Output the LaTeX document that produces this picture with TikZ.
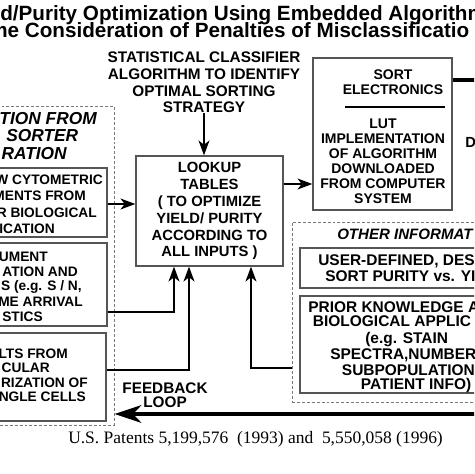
\documentclass[tikz,border=0pt]{standalone}
\usepackage{fontspec}
\setmainfont{Liberation Serif}
\setsansfont{Liberation Sans}
\usetikzlibrary{arrows.meta}
\definecolor{boxgray}{RGB}{85,85,85}
\definecolor{dashgray}{RGB}{120,120,120}
\newcommand\bfsans[2]{\sffamily\bfseries\fontsize{#1}{#2}\selectfont}

\tikzset{
  box/.style={draw=boxgray, line width=0.9pt, inner sep=0pt},
  group/.style={draw=dashgray, line width=0.6pt, dash pattern=on 2.2pt off 1.5pt, inner sep=0pt},
  frag/.style={inner sep=0pt, font=\bfsans{#1}{#1}},
  cut/.style={frag=#1, anchor=base east},
  lead/.style={frag=#1, anchor=base west},
  head/.style={inner sep=0pt, font=\bfsans{#1}{#1}\itshape},
  flow/.style={line width=2pt, -{Stealth[length=11pt,width=8pt,inset=3pt]}},
  fbarrow/.style={line width=3.4pt, -{Stealth[length=20pt,width=13pt,inset=6pt]}},
}

\begin{document}
\begin{tikzpicture}[x=0.75pt,y=-0.75pt]
  \useasboundingbox (0,0) rectangle (474,474);
  \clip (0,0) rectangle (474,474);
  % title
  \node[lead=15.5] (title1) at (0,20.5) {d/Purity Optimization Using Embedded Algorithm};
  \node[lead=15.5] (title2) at (-11,38) {me Consideration of Penalties of Misclassificatio};
  % boxes
  \node[group, minimum width=124*0.75pt, minimum height=319*0.75pt] (instgroup) at (52,265.5) {};
  \node[box, minimum width=127*0.75pt, minimum height=69*0.75pt] (raw) at (43.5,202.5) {};
  \node[box, minimum width=127*0.75pt, minimum height=83*0.75pt] (instr) at (43.5,284.5) {};
  \node[box, minimum width=126*0.75pt, minimum height=88*0.75pt] (mol) at (43,377) {};
  \node[box, minimum width=147*0.75pt, minimum height=110*0.75pt, align=center, font=\bfsans{11.1}{12.7}] (lookup) at (209.5,211)
    {LOOKUP\\TABLES\\( TO OPTIMIZE\\YIELD/ PURITY\\ACCORDING TO\\ALL INPUTS )};
  \node[box, minimum width=139*0.75pt, minimum height=152*0.75pt] (sort) at (382.5,134) {};
  \node[group, minimum width=208*0.75pt, minimum height=180*0.75pt] (othergroup) at (396,312) {};
  \node[box, minimum width=200*0.75pt, minimum height=40*0.75pt] (userbox) at (400,268) {};
  \node[box, minimum width=200*0.75pt, minimum height=97*0.75pt] (priorbox) at (400,344.5) {};
  % top text and sort box text
  \node[inner sep=0pt, align=center, font=\bfsans{11.5}{12.5}] (strategy) at (204,82.5)
    {STATISTICAL CLASSIFIER\\ALGORITHM TO IDENTIFY\\OPTIMAL SORTING\\STRATEGY};
  \node[inner sep=0pt, align=center, font=\bfsans{10.5}{10.7}] (sorttxt) at (393,82.2) {SORT\\ELECTRONICS};
  \node[inner sep=0pt, align=center, font=\bfsans{10.5}{11.25}] (luttxt) at (383,161.7)
    {LUT\\IMPLEMENTATION\\OF ALGORITHM\\DOWNLOADED\\FROM COMPUTER\\SYSTEM};
  \draw[line width=2pt] (345,107) -- (445,107);
  \node[lead=11] (dtxt) at (465,147) {D};
  % left group
  \node[head=13, anchor=base east] (hd1) at (97,125) {TION FROM};
  \node[head=13, anchor=base west] (hd2) at (6,142) {SORTER};
  \node[head=13, anchor=base east] (hd3) at (67,159) {RATION};
  \node[cut=10.3] (raw1) at (103,184) {W CYTOMETRIC};
  \node[cut=10.3] (raw2) at (86,200.5) {MENTS FROM};
  \node[cut=10.3] (raw3) at (97,217) {R BIOLOGICAL};
  \node[cut=10.3] (raw4) at (55,233.3) {ICATION};
  \node[cut=10.3] (instr1) at (48,261) {UMENT};
  \node[cut=10.3] (instr2) at (78,276) {ATION AND};
  \node[cut=10.3] (instr3) at (82,290.5) {S (e.g. S / N,};
  \node[cut=10.3] (instr4) at (83,306.5) {ME ARRIVAL};
  \node[cut=10.3] (instr5) at (43,321.5) {STICS};
  \node[cut=10.3] (mol1) at (68,358) {LTS FROM};
  \node[cut=10.3] (mol2) at (50,372.5) {CULAR};
  \node[cut=10.3] (mol3) at (88,387) {RIZATION OF};
  \node[cut=10.3] (mol4) at (86,401) {NGLE CELLS};
  % other information
  \node[head=11.3, anchor=base west] (hd4) at (337,239) {OTHER INFORMAT};
  \node[lead=11.6] (user1) at (318,265.7) {USER-DEFINED, DES};
  \node[lead=11.6] (user2) at (325,281.7) {SORT PURITY vs. YI};
  \node[lead=11.6] (prior1) at (308,312) {PRIOR KNOWLEDGE A};
  \node[lead=11.6] (prior2) at (312.7,326.7) {BIOLOGICAL APPLIC};
  \node[lead=11.6] (prior3) at (365,343) {(e.g. STAIN};
  \node[lead=11.6] (prior4) at (330,359) {SPECTRA,NUMBER};
  \node[lead=11.6] (prior5) at (341.7,375) {SUBPOPULATION};
  \node[lead=11.6] (prior6) at (360.7,389) {PATIENT INFO)};
  % connectors
  \draw[flow] (strategy.south) -- (strategy.south |- lookup.north);
  \draw[flow] (raw.east |- 0,204) -- (lookup.west |- 0,204);
  \draw[flow] (instr.east |- 0,312) -| (lookup.south -| 174,0);
  \draw[flow] (mol.east |- 0,370) -| (lookup.south -| 189,0);
  \draw[flow] (othergroup.west |- 0,368) -| (lookup.south -| 251,0);
  \draw[flow] (lookup.east |- 0,184) -- (sort.west |- 0,184);
  \draw[line width=3pt] (sort.east |- 0,80) -- (480,80);
  % feedback
  \node[inner sep=0pt, align=center, font=\bfsans{11.5}{10.8}] (fbtxt) at (165,395) {FEEDBACK\\LOOP};
  \draw[fbarrow] (480,414) -- (instgroup.east |- 0,414);
  % patents
  \node[inner sep=0pt, anchor=base west, font=\fontsize{13.1}{14}\selectfont] (patents) at (68,443)
    {U.S. Patents 5,199,576\ \ (1993) and\ \ 5,550,058 (1996)};
\end{tikzpicture}
\end{document}
